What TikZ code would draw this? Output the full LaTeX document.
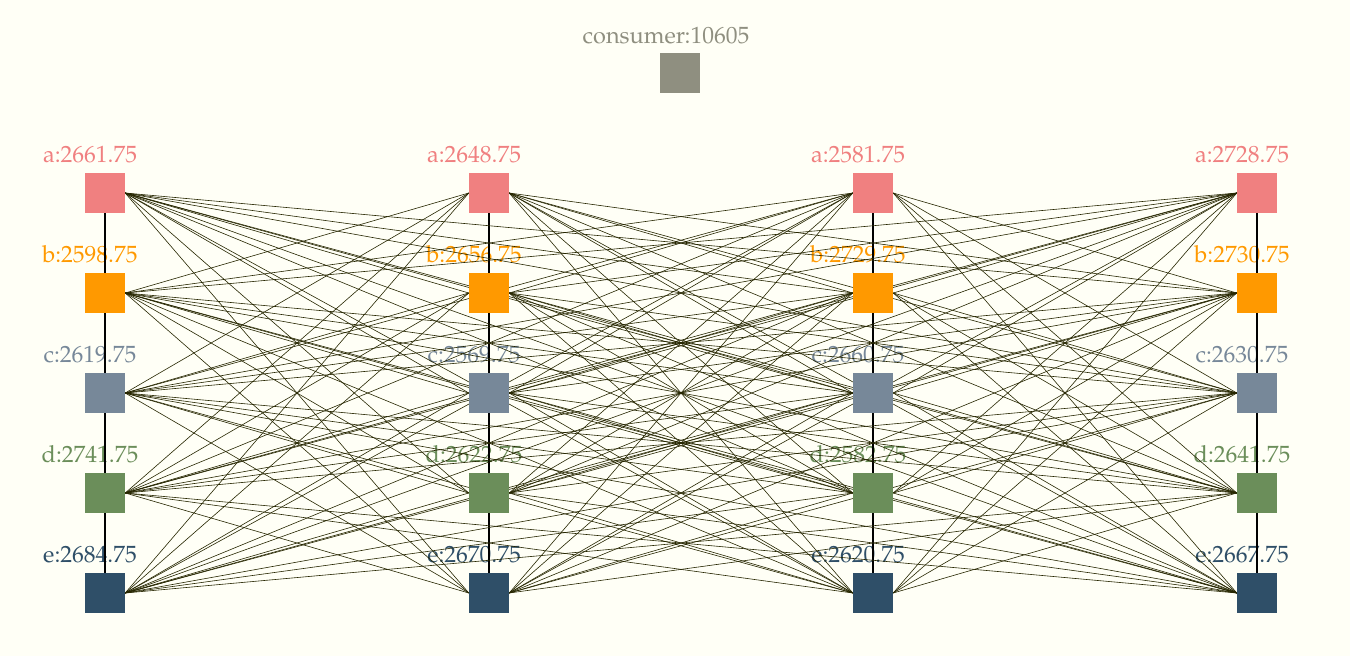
\documentclass[tikz,border=0pt]{standalone}
\usepackage{fontspec}
\setmainfont{TeX Gyre Pagella}
\pgfdeclarelayer{fg}
\pgfsetlayers{main,fg}
\definecolor{bg}{HTML}{FFFFF6}
\definecolor{ca}{HTML}{F08080}
\definecolor{cb}{HTML}{FF9900}
\definecolor{cc}{HTML}{778899}
\definecolor{cd}{HTML}{6B8E5A}
\definecolor{ce}{HTML}{2F4F68}
\definecolor{cn}{HTML}{8F8F80}
\definecolor{edge}{HTML}{262600}
\begin{document}
\begin{tikzpicture}[x=1pt,y=-1pt,
  sq/.style={minimum size=40pt,inner sep=0,fill=#1},
  lab/.style={text=#1,font=\fontsize{23.5}{23.5}\selectfont,anchor=base},
  ed/.style={edge,line width=0.6pt},
  vt/.style={black,line width=1.2pt}]
\fill[bg] (0,0) rectangle (1350,656);
\useasboundingbox (0,0) rectangle (1350,656);
\node[lab=cn] (lcons) at (666,43) {consumer:10605};
\begin{pgfonlayer}{fg}
\node[sq=cn] (cons) at (680,73) {};
\end{pgfonlayer}
\foreach \c/\x in {1/105,2/489,3/873,4/1257}{
  \foreach \r/\y/\col in {a/193/ca,b/293/cb,c/393/cc,d/493/cd,e/593/ce}{
    \begin{pgfonlayer}{fg}
    \node[sq=\col] (\r\c) at (\x,\y) {};
    \end{pgfonlayer}
  }
}
\foreach \c/\x/\va/\vb/\vc/\vd/\ve in {1/90/2661.75/2598.75/2619.75/2741.75/2684.75,2/474/2648.75/2656.75/2569.75/2622.75/2670.75,3/858/2581.75/2729.75/2660.75/2582.75/2620.75,4/1242/2728.75/2730.75/2630.75/2641.75/2667.75}{
  \node[lab=ca] (la\c) at (\x,162) {a:\va};
  \node[lab=cb] (lb\c) at (\x,262) {b:\vb};
  \node[lab=cc] (lc\c) at (\x,362) {c:\vc};
  \node[lab=cd] (ld\c) at (\x,462) {d:\vd};
  \node[lab=ce] (le\c) at (\x,562) {e:\ve};
}
\foreach \c in {1,2,3,4}{
  \draw[vt] (a\c) -- (b\c) -- (c\c) -- (d\c) -- (e\c);
}
\foreach \c/\nl in {1/{2,3,4},2/{3,4},3/{4}}{
  \foreach \n in \nl {
    \foreach \r in {a,b,c,d,e}{
      \foreach \s in {a,b,c,d,e}{
        \ifx\r\s\else
        \draw[ed] (\r\c.east) -- (\s\n.west);
        \fi
      }
    }
  }
}
\end{tikzpicture}
\end{document}
